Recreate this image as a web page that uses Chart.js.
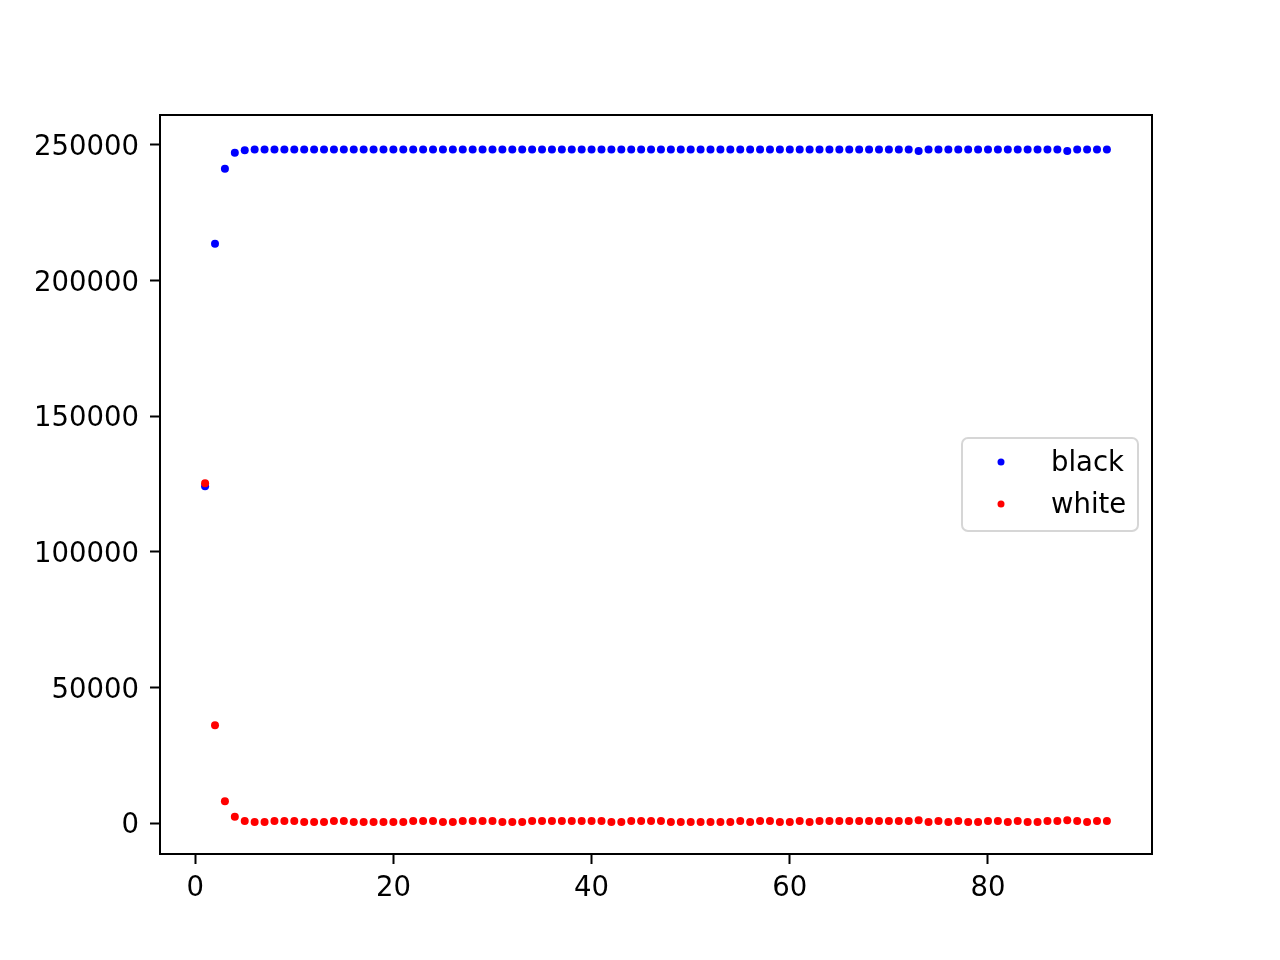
<!DOCTYPE html>
<html>
<head>
<meta charset="utf-8">
<script src="https://cdn.jsdelivr.net/npm/chart.js@4/dist/chart.umd.min.js"></script>
<style>
html,body{margin:0;padding:0;background:#fff;}
#wrap{width:1280px;height:960px;}
</style>
</head>
<body>
<div id="wrap"><canvas id="c" width="1280" height="960"></canvas></div>
<script>
const xValues = [1,2,3,4,5,6,7,8,9,10,11,12,13,14,15,16,17,18,19,20,21,22,23,24,25,26,27,28,29,30,
31,32,33,34,35,36,37,38,39,40,41,42,43,44,45,46,47,48,49,50,51,52,53,54,55,56,57,58,59,60,
61,62,63,64,65,66,67,68,69,70,71,72,73,74,75,76,77,78,79,80,81,82,83,84,85,86,87,88,89,90,91,92];

const blackValues = [124200,213600,241200,247100,248000,
248300,248300,248300,248300,248300,
248300,248300,248300,248300,248300,
248300,248300,248300,248300,248300,
248300,248300,248300,248300,248300,
248300,248300,248300,248300,248300,
248300,248300,248300,248300,248300,
248300,248300,248300,248300,248300,
248300,248300,248300,248300,248300,
248300,248300,248300,248300,248300,
248300,248300,248300,248300,248300,
248300,248300,248300,248300,248300,
248300,248300,248300,248300,248300,
248300,248300,248300,248300,248300,
248300,248300,247800,248300,248300,
248300,248300,248300,248300,248300,
248300,248300,248300,248300,248300,
248300,248300,247800,248300,248300,
248300,248300];

const whiteValues = [125300,36100,8100,2400,750,
450,450,800,800,800,
450,450,450,800,800,
450,450,450,450,450,
450,800,800,800,450,
450,800,800,800,800,
450,450,450,800,800,
800,800,800,800,800,
800,450,450,800,800,
800,800,450,450,450,
450,450,450,450,800,
450,800,800,450,450,
800,450,800,800,800,
800,800,800,800,800,
800,800,1100,450,800,
450,800,450,450,800,
800,450,800,450,450,
800,800,1100,800,450,
800,800];

const seriesLabels = ['black','white'];
const seriesColors = ['#0000ff','#ff0000'];
const xTicks = [0,20,40,60,80];
const yTicks = [0,50000,100000,150000,200000,250000];

const FONT = 'DejaVu Sans';
const FSIZE = 27.5;

const frameAndLegend = {
  id: 'frameAndLegend',
  afterDraw(chart) {
    const ctx = chart.ctx;
    const a = chart.chartArea;
    ctx.save();
    ctx.strokeStyle = '#000';
    ctx.lineWidth = 2;
    ctx.strokeRect(a.left, a.top, a.right - a.left, a.bottom - a.top);

    // legend (center right, inside axes)
    const w = 176, h = 93;
    const bx = a.right - 14 - w;
    const by = (a.top + a.bottom) / 2 - h / 2;
    const r = 6;
    ctx.beginPath();
    ctx.moveTo(bx + r, by);
    ctx.lineTo(bx + w - r, by);
    ctx.arcTo(bx + w, by, bx + w, by + r, r);
    ctx.lineTo(bx + w, by + h - r);
    ctx.arcTo(bx + w, by + h, bx + w - r, by + h, r);
    ctx.lineTo(bx + r, by + h);
    ctx.arcTo(bx, by + h, bx, by + h - r, r);
    ctx.lineTo(bx, by + r);
    ctx.arcTo(bx, by, bx + r, by, r);
    ctx.closePath();
    ctx.fillStyle = 'rgba(255,255,255,0.8)';
    ctx.fill();
    ctx.strokeStyle = 'rgba(204,204,204,0.8)';
    ctx.lineWidth = 2;
    ctx.stroke();

    ctx.font = FSIZE + 'px "' + FONT + '"';
    ctx.textBaseline = 'middle';
    ctx.textAlign = 'left';
    chart.data.datasets.forEach((ds, i) => {
      const cy = by + 24 + i * 42;
      ctx.beginPath();
      ctx.arc(bx + 39, cy, 3.5, 0, Math.PI * 2);
      ctx.fillStyle = ds.backgroundColor;
      ctx.fill();
      ctx.fillStyle = '#000';
      ctx.fillText(ds.label, bx + 89, cy + 2);
    });
    ctx.restore();
  }
};

function toPoints(ys) { return xValues.map((x, i) => ({x: x, y: ys[i]})); }

new Chart(document.getElementById('c'), {
  type: 'scatter',
  data: {
    datasets: [
      { label: seriesLabels[0], data: toPoints(blackValues), backgroundColor: seriesColors[0], borderWidth: 0, pointRadius: 4, order: 1 },
      { label: seriesLabels[1], data: toPoints(whiteValues), backgroundColor: seriesColors[1], borderWidth: 0, pointRadius: 4, order: 0 }
    ]
  },
  options: {
    responsive: false,
    devicePixelRatio: 1,
    animation: false,
    layout: { padding: { top: 115, right: 128, bottom: 0, left: 0 } },
    plugins: { legend: { display: false }, tooltip: { enabled: false }, title: { display: false } },
    scales: {
      x: {
        type: 'linear',
        min: -3.55,
        max: 96.55,
        afterFit(s) { s.height = 106; },
        afterBuildTicks(s) { s.ticks = xTicks.map(v => ({value: v})); },
        grid: { display: true, drawOnChartArea: false, drawTicks: true, tickLength: 10, tickWidth: 2, tickColor: '#000' },
        border: { display: false },
        ticks: { color: '#000', font: { family: FONT, size: FSIZE }, padding: 8, maxRotation: 0, autoSkip: false }
      },
      y: {
        type: 'linear',
        min: -11370,
        max: 261030,
        afterFit(s) { s.width = 160; },
        afterBuildTicks(s) { s.ticks = yTicks.map(v => ({value: v})); },
        grid: { display: true, drawOnChartArea: false, drawTicks: true, tickLength: 10, tickWidth: 2, tickColor: '#000' },
        border: { display: false },
        ticks: { color: '#000', font: { family: FONT, size: FSIZE }, padding: 11, labelOffset: 3, autoSkip: false, callback: v => String(v) }
      }
    }
  },
  plugins: [frameAndLegend]
});
</script>
</body>
</html>
